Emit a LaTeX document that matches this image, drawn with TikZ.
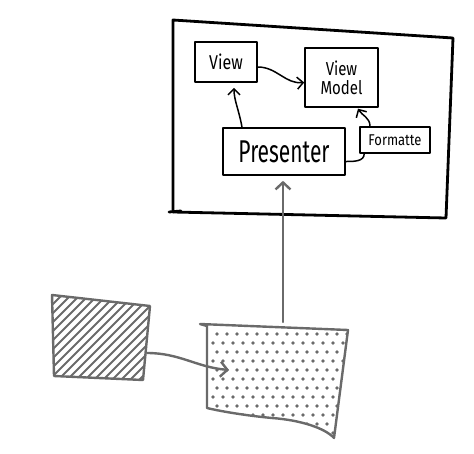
\documentclass[tikz,border=0pt]{standalone}
\usepackage{fontspec}
\setmainfont{Fira Sans}
\usetikzlibrary{arrows.meta}
\definecolor{grayink}{HTML}{6A6A6A}
\begin{document}
\begin{tikzpicture}[x=1pt,y=-1pt,line join=round,line cap=round,
  box/.style={draw,line width=1.6pt,inner sep=0pt},
  grayline/.style={draw=grayink,line width=2.4pt},
  hatchline/.style={draw=grayink,line width=2pt},
  dotmark/.style={fill=grayink},
  blackarrow/.style={line width=1.5pt,-{Straight Barb[length=6pt,width=12pt]}},
  grayarrow/.style={grayline,-{Straight Barb[length=7pt,width=15pt]}}]
\useasboundingbox (0,0) rectangle (474,453);
% frame
\draw[line width=2.8pt] (173,20) coordinate (ftl) -- (453,38) coordinate (ftr)
  -- (446,218) coordinate (fbr) -- (173,212) coordinate (fbl) -- cycle;
\draw[line width=2.8pt] (169,212) -- (181,211);
% inner boxes
\node[box,minimum width=62pt,minimum height=40pt] (view) at (226,62)
  {\scalebox{1}[1.25]{\fontsize{16}{16}\selectfont View}};
\node[box,minimum width=73pt,minimum height=59pt] (vm) at (341.5,77.5) {};
\node[inner sep=0pt] (vmtop) at ([yshift=9pt]vm.center) {\scalebox{1}[1.25]{\fontsize{15}{15}\selectfont View}};
\node[inner sep=0pt] (vmbot) at ([yshift=-10pt]vm.center) {\scalebox{1}[1.25]{\fontsize{15}{15}\selectfont Model}};
\node[box,minimum width=122pt,minimum height=47pt] (pres) at (284,151.5)
  {\scalebox{1}[1.5]{\fontsize{21}{21}\selectfont Presenter}};
\node[box,minimum width=70pt,minimum height=26pt] (fmt) at (395,140)
  {\scalebox{1}[1.2]{\fontsize{13}{13}\selectfont Formatte}};
% black connectors
\draw[blackarrow] ([yshift=-5pt]view.east) to[out=0,in=185] ([yshift=-5pt]vm.west);
\draw[blackarrow,shorten >=5pt] ([xshift=-42pt]pres.north) to[out=100,in=-90] ([xshift=8pt]view.south);
\draw[line width=1.5pt] ([yshift=-10pt]pres.east) to[out=0,in=-90] ([xshift=5pt]fmt.south west);
\draw[blackarrow,shorten >=1pt] ([xshift=-25pt]fmt.north) to[out=90,in=-60] ([xshift=16pt]vm.south);
% hatched box
\begin{scope}
  \clip (52,295) -- (150,306) -- (143,380) -- (54,376) -- cycle;
  \foreach \s in {-60,-51,...,170}
    \draw[hatchline] (\s,390) -- (\s+110,280);
\end{scope}
\draw[grayline] (52,295) -- (150,306) -- (143,380) -- (54,376) -- cycle;
\coordinate (hr) at (147,353);
% dotted box
\begin{scope}
  \clip (207,326) -- (348,330) -- (334,438)
    .. controls (325,428) and (300,420) .. (272,418)
    .. controls (240,415) and (215,410) .. (207,408) -- cycle;
  \foreach \y [count=\i] in {334,343,...,436}
    \foreach \x in {213,223,...,345}
      \fill[dotmark] ({\x+mod(\i,2)*4},\y) circle (1.8pt);
\end{scope}
\draw[grayline]
  (207,326) -- (200,324) -- (348,330) -- (334,438)
  .. controls (325,428) and (300,420) .. (272,418)
  .. controls (240,415) and (215,410) .. (207,408) -- cycle;
\coordinate (dtop) at (283,322);
\coordinate (dt) at (229,370);
% gray connectors
\draw[grayarrow] (hr) to[out=0,in=175] (dt);
\draw[grayarrow,shorten >=5pt] (dtop) -- (dtop |- pres.south);
\end{tikzpicture}
\end{document}
